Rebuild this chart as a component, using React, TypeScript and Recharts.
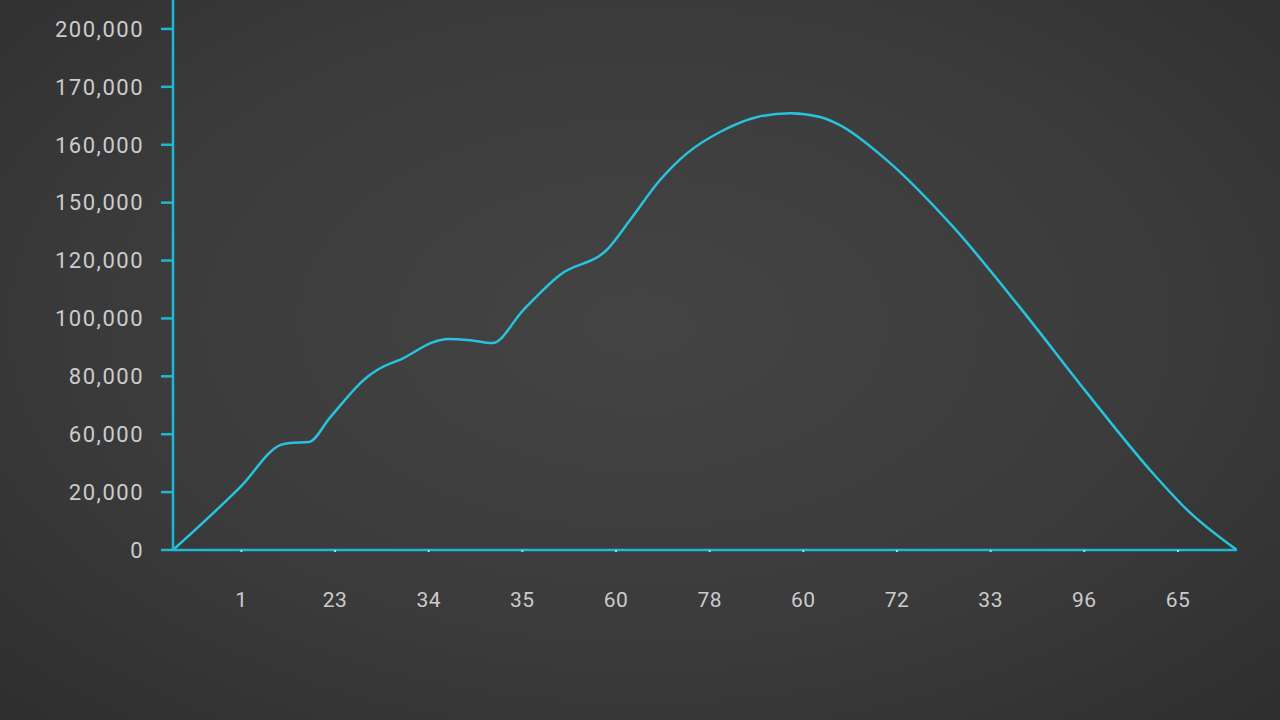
import React from 'react'
import { LineChart, Line, XAxis, YAxis } from 'recharts'

// x positions in tick units (tick 1 = first label)
const xPos = [
  0.27, 0.99, 1.42, 1.52, 1.72, 1.95, 2.34, 2.45, 2.73, 3.05, 3.2, 3.44, 3.68,
  4.01, 4.4, 4.92, 5.15, 5.47, 5.76, 6.11, 6.51, 6.86, 7.18, 7.39, 7.89, 8.6,
  9.31, 10.03, 10.73, 11.1, 11.63,
]
const values = [
  0, 21800, 36300, 37000, 37300, 45900, 59700, 62200, 66300, 71800, 72900,
  72500, 71500, 82900, 95000, 104300, 114000, 127800, 137100, 144400, 149600,
  150900, 149600, 146800, 134700, 111600, 83900, 54200, 26600, 13800, 0,
]

const xTicks = [1, 2, 3, 4, 5, 6, 7, 8, 9, 10, 11]
const xLabels = ['1', '23', '34', '35', '60', '78', '60', '72', '33', '96', '65']

const yTicks = [0, 20000, 40000, 60000, 80000, 100000, 120000, 140000, 160000, 180000]
const yLabels = [
  '0', '20,000', '60,000', '80,000', '100,000', '120,000', '150,000',
  '160,000', '170,000', '200,000',
]

const data = xPos.map((x, i) => ({ x, value: values[i] }))

const CYAN = '#26c4de'
const AXIS = '#1eb8d4'
const LABEL = '#cccccc'

export default function App() {
  return (
    <div
      style={{
        position: 'absolute',
        top: 0,
        left: 0,
        width: 1280,
        height: 720,
        background:
          'radial-gradient(ellipse 75% 80% at 50% 45%, #444444 0%, #3b3b3b 55%, #2d2d2d 100%)',
        fontFamily: 'Roboto, sans-serif',
      }}
    >
      <LineChart
        width={1280}
        height={720}
        data={data}
        margin={{ top: 0, right: 43, bottom: 0, left: 0 }}
      >
        <XAxis
          type="number"
          dataKey="x"
          domain={[0.27, 11.63]}
          ticks={xTicks}
          tickFormatter={(v: number) => xLabels[v - 1]}
          axisLine={{ stroke: AXIS, strokeWidth: 2.5 }}
          tickLine={{ stroke: '#8fe3f0', strokeWidth: 2 }}
          tickSize={2}
          tickMargin={40}
          tick={{ fill: LABEL, fontSize: 21, letterSpacing: 0.5 }}
          height={170}
          allowDataOverflow
        />
        <YAxis
          type="number"
          domain={[0, 190000]}
          ticks={yTicks}
          tickFormatter={(v: number) => yLabels[yTicks.indexOf(v)]}
          axisLine={{ stroke: AXIS, strokeWidth: 2.5 }}
          tickLine={{ stroke: AXIS, strokeWidth: 2.5 }}
          tickSize={12}
          tickMargin={17}
          tick={{ fill: LABEL, fontSize: 22, letterSpacing: 1.5 }}
          width={173}
        />
        <Line
          type="monotone"
          dataKey="value"
          stroke={CYAN}
          strokeWidth={2.5}
          dot={false}
          isAnimationActive={false}
        />
      </LineChart>
    </div>
  )
}
